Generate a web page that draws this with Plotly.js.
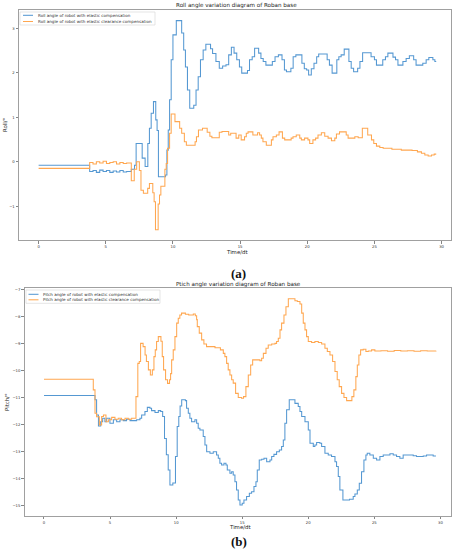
<!DOCTYPE html>
<html><head><meta charset="utf-8">
<script src="https://cdn.plot.ly/plotly-3.0.1.min.js"></script>
<style>html,body{margin:0;padding:0;background:#fff}#chart{width:461px;height:550px}</style>
</head><body><div id="chart"></div>
<script>
// ---------- (a) Roll angle ----------
const rollTimeElastic = [0,3.8,4.05,4.3,4.55,4.8,5.05,5.3,5.55,5.8,6.05,6.3,6.55,6.9,7.14,7.26,7.71,7.93,8.13,8.25,8.38,8.55,8.72,8.82,8.92,9.45,9.55,9.65,9.75,9.87,10.0,10.25,10.65,10.8,10.93,11.08,11.25,11.55,11.72,11.88,12.05,12.25,12.45,12.8,12.95,13.2,13.45,13.7,13.95,14.15,14.35,14.55,14.75,14.95,15.12,15.55,15.7,15.9,16.08,16.38,16.55,16.72,16.92,17.4,17.6,17.85,18.12,18.3,18.45,18.78,18.95,19.15,19.6,19.78,19.95,20.1,20.3,20.5,20.7,20.85,21.48,21.65,21.85,22.2,22.35,22.52,22.75,23.1,23.27,23.45,23.75,23.92,24.12,24.75,25.0,25.15,25.62,25.82,26.0,26.38,26.57,26.75,27.12,27.36,27.6,27.92,28.1,28.6,28.85,29.05,29.35,29.5,29.6];
const rollElastic = [-0.08,-0.22,-0.2,-0.24,-0.19,-0.22,-0.2,-0.24,-0.21,-0.23,-0.2,-0.23,-0.22,-0.17,-0.08,0.41,0.08,-0.11,0.41,0.75,1.09,1.35,0.94,0.7,-0.34,-0.3,0.26,0.71,1.39,2.29,2.85,3.17,2.89,2.51,2.13,1.61,1.2,1.27,1.61,1.91,2.29,2.51,2.64,2.54,2.43,2.25,2.1,2.15,2.18,2.4,2.57,2.44,2.29,2.13,1.99,2.05,2.29,2.36,2.55,2.44,2.32,2.25,2.17,2.25,2.36,2.4,2.29,2.06,2.02,2.1,2.36,2.4,2.21,2.09,2.06,1.95,2.09,2.21,2.36,2.42,2.29,2.17,1.99,2.29,2.36,2.4,2.53,2.25,2.1,2.02,2.1,2.25,2.45,2.36,2.29,2.17,2.29,2.36,2.44,2.35,2.29,2.17,2.25,2.32,2.38,2.29,2.17,2.21,2.29,2.34,2.29,2.25,2.25];

const rollTimeClearance = [0,3.8,4.05,4.3,4.55,4.8,5.05,5.3,5.55,5.8,6.05,6.3,6.55,6.9,7.12,7.3,7.5,7.62,7.8,8.12,8.25,8.5,8.6,8.7,8.9,9.0,9.1,9.4,9.5,9.6,9.75,9.87,10.15,10.5,10.65,10.85,11.0,11.65,11.75,11.9,12.2,12.55,12.75,12.9,13.45,13.65,14.15,14.3,14.7,14.9,15.08,15.33,15.46,15.59,15.95,16.3,16.45,16.58,16.7,16.95,17.33,17.45,17.7,17.9,18.15,18.32,18.8,18.94,19.18,19.44,19.56,19.8,20.05,20.18,20.42,20.62,20.8,21.05,21.3,21.55,21.8,22.05,22.17,22.4,22.9,23.04,23.54,23.79,24.1,24.5,24.78,24.95,25.15,25.4,25.65,26.3,27.0,27.8,28.2,28.5,28.75,29.0,29.25,29.45,29.6];
const rollClearance = [-0.15,-0.02,-0.05,0.0,-0.03,0.01,-0.04,-0.02,0.0,-0.05,-0.02,-0.04,-0.03,-0.43,-0.17,0.0,-0.2,-0.64,-0.71,-0.6,-0.49,-0.7,-0.9,-1.53,-0.95,-0.75,-0.55,-0.17,-0.04,0.3,0.64,1.07,0.9,0.75,0.64,0.45,0.37,0.45,0.56,0.71,0.75,0.66,0.57,0.54,0.66,0.68,0.6,0.64,0.53,0.6,0.49,0.56,0.64,0.67,0.6,0.65,0.6,0.53,0.45,0.37,0.49,0.56,0.6,0.67,0.53,0.49,0.53,0.56,0.6,0.53,0.49,0.53,0.49,0.41,0.49,0.53,0.6,0.65,0.57,0.53,0.47,0.53,0.62,0.67,0.6,0.53,0.56,0.54,0.75,0.6,0.49,0.41,0.35,0.32,0.3,0.28,0.26,0.25,0.22,0.19,0.15,0.13,0.15,0.17,0.17];

// ---------- (b) Pitch angle ----------
const pitchTimeElastic = [0,3.86,3.98,4.12,4.29,4.44,4.61,4.74,4.99,5.25,5.5,5.75,6.0,6.25,6.51,7.01,7.26,7.39,7.64,7.82,8.02,8.14,8.4,8.65,8.83,8.98,9.12,9.26,9.4,9.53,9.75,9.95,10.08,10.2,10.3,10.42,10.7,10.79,10.92,11.04,11.17,11.42,11.55,11.67,11.8,12.05,12.18,12.31,12.56,12.81,13.06,13.19,13.31,13.44,13.62,13.77,13.87,14.07,14.2,14.32,14.45,14.57,14.7,14.83,15.0,15.13,15.33,15.54,15.71,15.89,16.04,16.14,16.29,16.47,16.65,16.85,17.1,17.23,17.4,17.6,17.81,17.98,18.11,18.23,18.36,18.56,18.99,19.24,19.37,19.5,19.75,20.0,20.13,20.38,20.5,20.63,20.88,21.01,21.26,21.51,21.76,22.02,22.14,22.27,22.39,22.62,23.12,23.4,23.53,23.71,23.86,24.03,24.21,24.36,24.46,24.66,24.92,25.17,25.42,25.67,26.18,26.43,26.68,26.93,27.18,27.94,28.19,28.7,28.95,29.45,29.66];
const pitchElastic = [-10.91,-11.07,-11.63,-12.04,-11.88,-11.75,-11.88,-11.75,-11.94,-11.81,-11.88,-11.81,-11.84,-11.79,-11.84,-11.81,-11.75,-11.63,-11.5,-11.35,-11.38,-11.47,-11.54,-11.47,-11.5,-11.69,-12.5,-13.1,-13.67,-14.22,-14.15,-13.17,-12.06,-11.69,-11.3,-11.07,-11.1,-11.38,-11.57,-11.75,-11.88,-11.81,-11.94,-12.12,-12.19,-12.43,-12.74,-12.99,-13.05,-12.99,-13.11,-13.23,-13.42,-13.48,-13.42,-13.48,-13.67,-13.79,-13.73,-13.85,-14.1,-14.41,-14.78,-14.96,-14.9,-14.78,-14.65,-14.53,-14.47,-14.28,-14.1,-13.67,-13.3,-13.27,-13.23,-13.36,-13.3,-13.17,-13.09,-12.99,-12.93,-12.8,-12.56,-11.94,-11.44,-11.07,-11.2,-11.32,-11.5,-11.69,-11.88,-12.19,-12.68,-12.8,-12.74,-12.65,-12.68,-12.8,-13.05,-13.11,-13.17,-13.36,-13.54,-13.91,-14.41,-14.78,-14.75,-14.65,-14.56,-14.41,-14.16,-13.73,-13.3,-13.11,-13.05,-13.11,-13.23,-13.3,-13.17,-13.11,-13.07,-13.11,-13.17,-13.23,-13.11,-13.14,-13.17,-13.15,-13.11,-13.15,-13.15];

const pitchTimeClearance = [0,3.73,3.86,3.98,4.19,4.36,4.5,4.69,4.87,5.12,5.37,5.62,5.87,6.13,6.38,6.63,6.96,7.1,7.21,7.31,7.5,7.65,7.75,7.9,8.05,8.2,8.32,8.42,8.52,8.65,8.85,8.95,9.05,9.2,9.35,9.5,9.58,9.66,9.78,9.91,10.04,10.16,10.28,10.41,10.7,10.95,11.3,11.45,11.55,11.6,11.75,11.93,12.1,12.3,12.94,13.35,13.57,13.69,13.82,13.94,14.07,14.2,14.32,14.5,14.7,14.95,15.1,15.28,15.46,15.64,15.79,16.34,16.47,16.6,16.8,16.97,17.23,17.48,17.6,17.73,17.86,17.98,18.16,18.31,18.49,18.99,19.17,19.37,19.5,19.62,19.75,19.87,20.0,20.25,20.5,20.76,21.01,21.26,21.44,21.64,21.84,22.02,22.19,22.34,22.52,22.7,22.9,23.3,23.45,23.6,23.71,23.83,23.96,24.16,24.36,24.54,24.79,25.04,25.5,26.0,26.5,27.0,27.5,28.0,28.5,29.0,29.66];
const pitchClearance = [-10.31,-10.7,-11.57,-11.7,-12.0,-11.69,-11.63,-11.88,-11.81,-11.72,-11.79,-11.75,-11.81,-11.75,-11.79,-11.75,-10.95,-9.72,-9.65,-8.98,-9.1,-9.41,-9.65,-9.96,-10.15,-9.96,-9.47,-9.22,-8.91,-8.73,-8.9,-9.47,-9.96,-10.33,-10.46,-10.33,-10.1,-9.59,-9.22,-8.73,-8.23,-8.05,-7.93,-7.86,-7.9,-7.93,-7.89,-7.96,-8.1,-8.36,-8.6,-8.85,-9.0,-9.1,-9.14,-9.22,-9.35,-9.47,-9.72,-9.96,-10.15,-10.33,-10.45,-10.83,-10.98,-11.01,-10.95,-10.58,-10.15,-9.78,-9.59,-9.62,-9.53,-9.35,-9.16,-9.04,-9.0,-8.98,-8.91,-8.79,-8.48,-8.23,-7.93,-7.62,-7.33,-7.4,-7.43,-7.52,-7.86,-8.23,-8.48,-8.73,-8.91,-8.95,-8.91,-8.95,-9.0,-9.16,-9.28,-9.41,-9.65,-10.02,-10.33,-10.58,-10.83,-10.98,-11.1,-10.95,-10.7,-10.21,-9.78,-9.41,-9.22,-9.2,-9.28,-9.26,-9.22,-9.26,-9.25,-9.27,-9.24,-9.26,-9.25,-9.27,-9.25,-9.26,-9.25];

const xTicks = [0,5,10,15,20,25,30];
const rollTicks = [-1,0,1,2,3];
const pitchTicks = [-15,-14,-13,-12,-11,-10,-9,-8,-7];
const rollNames = ['Roll angle of robot with elastic compensation', 'Roll angle of robot with elastic clearance compensation'];
const pitchNames = ['Pitch angle of robot with elastic compensation', 'Pitch angle of robot with elastic clearance compensation'];

const BLUE = '#5598d2', ORANGE = '#ffa750';
const W = 461, H = 550;
const fx = x => x / W, fy = y => 1 - y / H;

const traces = [
  {x: rollTimeElastic, y: rollElastic, mode:'lines', line:{shape:'hv', color:BLUE, width:1.05}, name:rollNames[0], xaxis:'x', yaxis:'y'},
  {x: rollTimeClearance, y: rollClearance, mode:'lines', line:{shape:'hv', color:ORANGE, width:1.05}, name:rollNames[1], xaxis:'x', yaxis:'y'},
  {x: pitchTimeElastic, y: pitchElastic, mode:'lines', line:{shape:'hv', color:BLUE, width:1.05}, name:pitchNames[0], xaxis:'x2', yaxis:'y2'},
  {x: pitchTimeClearance, y: pitchClearance, mode:'lines', line:{shape:'hv', color:ORANGE, width:1.05}, name:pitchNames[1], xaxis:'x2', yaxis:'y2'}
];

const ax = {showgrid:false, zeroline:false, showline:true, mirror:true, linecolor:'#a0a0a0', linewidth:1,
  ticks:'outside', ticklen:2.5, tickwidth:0.6, tickcolor:'#333',
  tickfont:{family:'DejaVu Sans', size:3.8, color:'#333'}, tickmode:'array'};
const txt = (text, x, y, size, extra) => Object.assign({text, x:fx(x), y:fy(y), xref:'paper', yref:'paper',
  showarrow:false, xanchor:'center', yanchor:'middle', font:{family:'DejaVu Sans', size, color:'#222'}}, extra || {});

// compact matplotlib-style legend boxes (legend decoration, not data)
function legendBox(x0, y0, x1, y1, names, lineX0, lineX1, rowY) {
  const shapes = [{type:'rect', xref:'paper', yref:'paper', x0:fx(x0), x1:fx(x1), y0:fy(y1), y1:fy(y0),
    line:{color:'#d4d4d4', width:0.6}, fillcolor:'rgba(255,255,255,0.85)', layer:'above'}];
  const anns = [];
  [BLUE, ORANGE].forEach((c, i) => {
    shapes.push({type:'line', xref:'paper', yref:'paper', x0:fx(lineX0), x1:fx(lineX1), y0:fy(rowY[i]), y1:fy(rowY[i]),
      line:{color:c, width:1.05}, layer:'above'});
    anns.push(txt(names[i], lineX1 + 2.5, rowY[i], 4.1, {xanchor:'left', font:{family:'DejaVu Sans', size:4.1, color:'#333'}}));
  });
  return {shapes, anns};
}
const legA = legendBox(20, 12, 155, 25, rollNames, 23, 33, [15.3, 21.5]);
const legB = legendBox(26, 290, 160, 303.3, pitchNames, 28.5, 38.5, [294.3, 299.8]);

const layout = {
  width: W, height: H, margin:{l:0, r:0, t:0, b:0},
  paper_bgcolor:'#fff', plot_bgcolor:'#fff', showlegend:false,
  xaxis: Object.assign({}, ax, {domain:[fx(19), fx(451)], range:[-1.46, 30.7], tickvals:xTicks, anchor:'y'}),
  yaxis: Object.assign({}, ax, {domain:[fy(240), fy(9.5)], range:[-1.76, 3.42], tickvals:rollTicks, anchor:'x'}),
  xaxis2: Object.assign({}, ax, {domain:[fx(24.7), fx(451)], range:[-1.46, 30.8], tickvals:xTicks, anchor:'y2'}),
  yaxis2: Object.assign({}, ax, {domain:[fy(515.7), fy(288.3)], range:[-15.36, -6.94], tickvals:pitchTicks, anchor:'x2'}),
  shapes: legA.shapes.concat(legB.shapes),
  annotations: [
    txt('Roll angle variation diagram of Roban base', 236, 5.5, 5.6),
    txt('Time/dt', 237, 252, 5.4),
    txt('Roll/°', 5, 125, 5.4, {textangle:-90}),
    txt('<b>(a)</b>', 238, 273, 13, {font:{family:'Liberation Serif', size:13, color:'#111'}}),
    txt('Ptich angle variation diagram of Roban base', 238, 284, 5.6),
    txt('Time/dt', 240, 527, 5.4),
    txt('Pitch/°', 7, 402, 5.4, {textangle:-90}),
    txt('<b>(b)</b>', 239, 541, 13, {font:{family:'Liberation Serif', size:13, color:'#111'}})
  ].concat(legA.anns, legB.anns)
};

Plotly.newPlot('chart', traces, layout, {staticPlot:true, displayModeBar:false});
</script>
</body></html>
